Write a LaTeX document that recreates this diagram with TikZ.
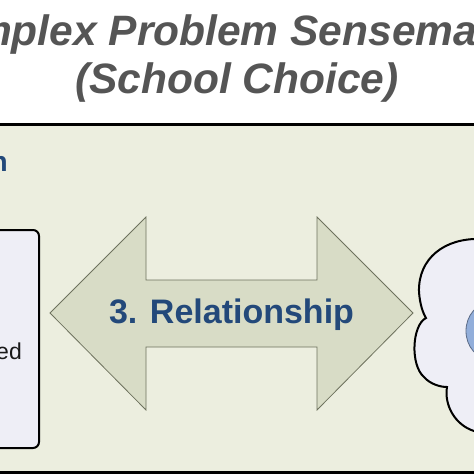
\documentclass[tikz,border=0pt]{standalone}
\usepackage{fontspec}
\setmainfont{Liberation Sans}
\usetikzlibrary{positioning}

\definecolor{panelfill}{HTML}{ECEEDF}
\definecolor{arrowfill}{HTML}{D8DCC6}
\definecolor{arrowline}{HTML}{6E725E}
\definecolor{boxfill}{HTML}{EEEEF6}
\definecolor{titlegray}{HTML}{555555}
\definecolor{labelblue}{HTML}{23497A}
\definecolor{ovalblue}{HTML}{92AEDA}
\definecolor{ovalline}{HTML}{5A6A86}

\begin{document}
\begin{tikzpicture}[x=1pt, y=-1pt, inner sep=0pt,
    title/.style={font=\fontsize{42.5}{48}\selectfont\bfseries\itshape, text=titlegray, anchor=base},
    heading/.style={font=\fontsize{28}{32}\selectfont\bfseries, text=labelblue, anchor=base east},
    boxtext/.style={font=\fontsize{23}{27}\selectfont, text=black!90, anchor=base east},
    relation/.style={font=\fontsize{34}{40}\selectfont\bfseries, text=labelblue, anchor=base}]

\useasboundingbox (0,0) rectangle (474,474);
\clip (0,0) rectangle (474,474);
\fill[white] (0,0) rectangle (474,474);

% title
\node[title] (title1) at (241,45) {Complex Problem Sensemaking};
\node[title] (title2) at (237,93) {(School Choice)};

% panel
\draw[line width=3pt, fill=panelfill] (-10,124) rectangle (484,472);
\node[heading] (head) at (8,171) {n};

% left box
\draw[line width=2pt, fill=boxfill, rounded corners=6pt] (-20,230) rectangle (39,448);
\node[boxtext] (boxlabel) at (22,359) {ed};

% double arrow
\draw[arrowline, fill=arrowfill, line width=0.8pt]
    (50,313) -- (146,217) -- (146,280) -- (317,280) -- (317,217) -- (413,313)
    -- (317,410) -- (317,347) -- (146,347) -- (146,410) -- cycle;
\node[relation] (rel) at (231.5,323) {3. Relationship};

% cloud
\draw[line width=2pt, fill=boxfill]
    (480,239) .. controls (445,238) and (418,258) .. (419,292)
    .. controls (420,305) and (423,313) .. (426,318)
    .. controls (412,325) and (410,365) .. (424,377)
    .. controls (430,384) and (440,387) .. (447,387)
    .. controls (444,405) and (455,425) .. (474,431)
    -- (490,432) -- (490,239) -- cycle;
\draw[ovalline, fill=ovalblue, line width=0.8pt] (490,331) ellipse (24 and 28);

\end{tikzpicture}
\end{document}
